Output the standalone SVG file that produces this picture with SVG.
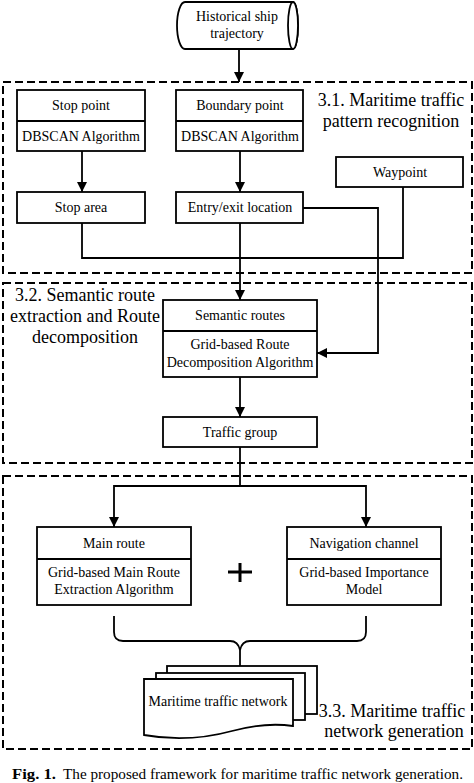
<svg xmlns="http://www.w3.org/2000/svg" width="474" height="783" viewBox="0 0 474 783">
<defs>
<style>
.box{fill:#fff;stroke:#000;stroke-width:1.8}
.t{font-family:"Liberation Serif","Times New Roman",serif;font-size:14px;fill:#000;text-anchor:middle}
.sec{font-family:"Liberation Serif","Times New Roman",serif;font-size:18px;fill:#000;text-anchor:middle}
.dash{fill:none;stroke:#000;stroke-width:2;stroke-dasharray:8,4}
.ln{fill:none;stroke:#000;stroke-width:1.8}
.cap{font-family:"Liberation Serif","Times New Roman",serif;font-size:14.5px;fill:#000}
</style>
<marker id="ah" viewBox="0 0 10 10" refX="10" refY="5" markerWidth="10" markerHeight="10" markerUnits="userSpaceOnUse" orient="auto">
<path d="M0,0 L10,5 L0,10 Z" fill="#000"/>
</marker>
</defs>
<rect width="474" height="783" fill="#fff"/>

<g id="sections">
<rect class="dash" x="3" y="82" width="469" height="191"/>
<rect class="dash" x="3" y="283" width="469" height="180"/>
<rect class="dash" x="3" y="476" width="469" height="273"/>
<text class="sec" x="391" y="106">3.1. Maritime traffic</text>
<text class="sec" x="391" y="127">pattern recognition</text>
<text class="sec" x="85" y="301">3.2. Semantic route</text>
<text class="sec" x="85" y="322">extraction and Route</text>
<text class="sec" x="85" y="343">decomposition</text>
<text class="sec" x="392" y="717">3.3. Maritime traffic</text>
<text class="sec" x="394" y="737">network generation</text>
</g>

<g id="connectors">
<line class="ln" x1="239" y1="49" x2="239" y2="82" marker-end="url(#ah)"/>
<line class="ln" x1="82" y1="151" x2="82" y2="192" marker-end="url(#ah)"/>
<line class="ln" x1="240" y1="151" x2="240" y2="192" marker-end="url(#ah)"/>
<polyline class="ln" points="82,223 82,258 403,258 403,187"/>
<line class="ln" x1="240" y1="223" x2="240" y2="300" marker-end="url(#ah)"/>
<polyline class="ln" points="303,208 378,208 378,353 317,353" marker-end="url(#ah)"/>
<line class="ln" x1="240" y1="377" x2="240" y2="417" marker-end="url(#ah)"/>
<polyline class="ln" points="240,447 240,486"/>
<polyline class="ln" points="240,486 114,486 114,527" marker-end="url(#ah)"/>
<polyline class="ln" points="240,486 366,486 366,527" marker-end="url(#ah)"/>
<path class="ln" d="M114,616 V632 Q114,641 123,641 H230 Q238,641 240,650 Q242,641 250,641 H357 Q366,641 366,632 V616"/>
<line class="ln" x1="240" y1="648" x2="240" y2="666"/>
</g>

<g id="historical">
<path class="box" d="M185,2 H293 A5,23.5 0 0 1 293,49 H185 A8,23.5 0 0 1 185,2 Z"/>
<ellipse class="box" cx="293" cy="25.5" rx="5" ry="23.5"/>
<text class="t" x="237" y="21">Historical ship</text>
<text class="t" x="237" y="38">trajectory</text>
</g>

<g id="stoppoint">
<rect class="box" x="17" y="90" width="128" height="61"/>
<line class="ln" x1="17" y1="121" x2="145" y2="121"/>
<text class="t" x="81" y="110">Stop point</text>
<text class="t" x="81" y="141">DBSCAN Algorithm</text>
</g>

<g id="boundarypoint">
<rect class="box" x="176" y="90" width="127" height="61"/>
<line class="ln" x1="176" y1="121" x2="303" y2="121"/>
<text class="t" x="240" y="110">Boundary point</text>
<text class="t" x="240" y="141">DBSCAN Algorithm</text>
</g>

<g id="waypoint">
<rect class="box" x="336" y="157" width="127" height="30"/>
<text class="t" x="400" y="177">Waypoint</text>
</g>

<g id="stoparea">
<rect class="box" x="17" y="192" width="128" height="31"/>
<text class="t" x="81" y="212">Stop area</text>
</g>

<g id="entryexit">
<rect class="box" x="176" y="192" width="127" height="31"/>
<text class="t" x="240" y="212">Entry/exit location</text>
</g>

<g id="semantic">
<rect class="box" x="163" y="300" width="154" height="77"/>
<line class="ln" x1="163" y1="331" x2="317" y2="331"/>
<text class="t" x="240" y="320">Semantic routes</text>
<text class="t" x="240" y="349">Grid-based Route</text>
<text class="t" x="240" y="367">Decomposition Algorithm</text>
</g>

<g id="trafficgroup">
<rect class="box" x="163" y="417" width="154" height="30"/>
<text class="t" x="240" y="437">Traffic group</text>
</g>

<g id="mainroute">
<rect class="box" x="37" y="527" width="154" height="78"/>
<line class="ln" x1="37" y1="559" x2="191" y2="559"/>
<text class="t" x="114" y="548">Main route</text>
<text class="t" x="114" y="577">Grid-based Main Route</text>
<text class="t" x="114" y="594">Extraction Algorithm</text>
</g>

<g id="plus">
<line x1="228" y1="572" x2="252" y2="572" stroke="#000" stroke-width="3"/>
<line x1="240" y1="563" x2="240" y2="582" stroke="#000" stroke-width="3"/>
</g>

<g id="navchannel">
<rect class="box" x="287" y="527" width="154" height="78"/>
<line class="ln" x1="287" y1="559" x2="441" y2="559"/>
<text class="t" x="364" y="548">Navigation channel</text>
<text class="t" x="364" y="577">Grid-based Importance</text>
<text class="t" x="364" y="594">Model</text>
</g>

<g id="network">
<rect class="box" x="167" y="666" width="150" height="48"/>
<rect class="box" x="156" y="673" width="149" height="47"/>
<path class="box" d="M144,679 H293 V726 Q265,722 232,731 Q188,743 144,735 Z"/>
<text class="t" x="218" y="706">Maritime traffic network</text>
</g>

<g id="caption">
<text class="cap" x="12" y="779" font-weight="bold" textLength="44" lengthAdjust="spacingAndGlyphs">Fig. 1.</text>
<text class="cap" x="63" y="779" textLength="400" lengthAdjust="spacingAndGlyphs">The proposed framework for maritime traffic network generation.</text>
</g>
</svg>
